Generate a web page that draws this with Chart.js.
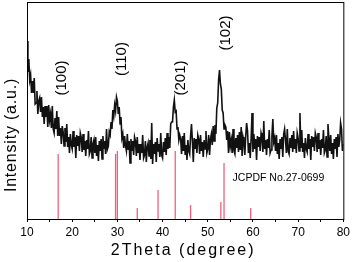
<!DOCTYPE html>
<html>
<head>
<meta charset="utf-8">
<script src="https://cdn.jsdelivr.net/npm/chart.js@4.4.1/dist/chart.umd.min.js"></script>
<style>
  html, body { margin: 0; padding: 0; background: #fff; }
  #wrap { width: 353px; height: 262px; position: relative; }
</style>
</head>
<body>
<div id="wrap"><canvas id="xrdChart"></canvas></div>
<script>
// XRD scan, 2theta from 10 to 80 deg, one reading every 0.2 deg (arbitrary units)
const startAngle = 10;
const stepAngle = 0.2;
const intensity = [
    178,147,160,139,144,126,138,126,141,115,
    116,128,105,118,121,107,122,102,112,95,
    113,102,113,92,114,99,105,91,113,90,
    86,101,90,108,83,102,83,91,75,93,
    87,73,91,77,95,72,82,66,85,74,
    70,88,72,82,61,84,73,83,68,86,
    82,67,85,69,78,63,79,70,88,65,
    68,82,61,75,79,66,82,63,74,58,
    78,68,80,60,83,70,78,65,90,70,
    73,87,84,97,90,109,103,114,108,122,
    118,105,112,95,102,81,85,71,83,73,
    68,85,69,78,56,80,68,78,64,82,
    78,63,82,66,75,59,75,66,84,61,
    64,78,57,72,76,63,79,60,96,55,
    75,65,77,57,81,68,75,62,86,64,
    61,77,67,81,64,86,70,82,71,95,
    97,97,112,119,107,108,90,92,79,84,
    80,65,83,68,86,64,74,59,79,68,
    65,83,95,78,57,81,70,80,66,84,
    80,65,84,68,77,62,79,70,88,66,
    70,84,64,80,85,74,93,78,94,85,
    111,116,139,149,135,130,109,106,90,94,
    92,79,88,66,87,73,79,66,90,68,
    65,81,71,84,67,87,69,92,63,82,
    77,64,83,96,88,66,76,61,81,106,
    67,85,70,80,59,83,72,82,68,86,
    82,67,98,70,79,64,80,71,89,66,
    69,83,100,77,81,68,84,65,76,60,
    80,70,82,62,85,90,79,66,90,68,
    65,81,71,84,67,88,70,80,66,86,
    81,68,106,71,89,67,76,61,81,70,
    67,85,70,80,59,83,72,82,68,86,
    82,67,86,70,79,64,80,71,89,66,
    69,83,62,95,81,68,84,65,76,60,
    80,70,82,62,85,72,79,96,90,68,
    75
];

// JCPDF 27-0699 reference lines
const refAngles = [16.9, 29.6, 30.0, 34.4, 39.0, 42.8, 46.2, 52.9, 53.6, 59.5];
const refHeights = [65, 65, 68, 11, 29, 68, 14, 17, 56, 11];

const peakNames = ['(100)', '(110)', '(201)', '(102)'];
const cardName = 'JCPDF No.27-0699';
const xTitle = '2Theta (degree)';
const yTitle = 'Intensity (a.u.)';

const fontFamily = "'Liberation Sans', Arial, sans-serif";

let tracePoints = [];
for (let i = 0; i < intensity.length; i++) {
    tracePoints.push({x: startAngle + i * stepAngle, y: intensity[i]});
}

let refPoints = [];
for (let i = 0; i < refAngles.length; i++) {
    refPoints.push({x: refAngles[i], y: 0});
    refPoints.push({x: refAngles[i], y: refHeights[i]});
    refPoints.push({x: refAngles[i], y: null});
}

// where the peak names sit, in data units
const peakSpots = [
    {x: 17.7, y: 141},
    {x: 30.9, y: 160},
    {x: 44.0, y: 141},
    {x: 53.9, y: 186}
];

const textPlugin = {
    id: 'xrdText',
    afterDraw(chart) {
        const ctx = chart.ctx;
        const a = chart.chartArea;
        const xs = chart.scales.x;
        const ys = chart.scales.y;
        ctx.save();
        ctx.strokeStyle = '#000';
        ctx.lineWidth = 1;
        ctx.strokeRect(a.left + 0.5, a.top + 0.5, a.right - a.left, a.bottom - a.top);

        ctx.fillStyle = '#000';
        ctx.textAlign = 'center';
        ctx.textBaseline = 'middle';
        ctx.font = '15px ' + fontFamily;
        for (let i = 0; i < peakNames.length; i++) {
            ctx.save();
            ctx.translate(xs.getPixelForValue(peakSpots[i].x), ys.getPixelForValue(peakSpots[i].y));
            ctx.rotate(-Math.PI / 2);
            ctx.fillText(peakNames[i], 0, 0);
            ctx.restore();
        }

        ctx.textAlign = 'left';
        ctx.font = '10.5px ' + fontFamily;
        ctx.fillText(cardName, xs.getPixelForValue(55.5), ys.getPixelForValue(41));

        ctx.textAlign = 'center';
        ctx.font = '16px ' + fontFamily;
        ctx.letterSpacing = '2px';
        ctx.fillText(xTitle, (a.left + a.right) / 2 - 2, a.bottom + 32);

        ctx.letterSpacing = '0.8px';
        ctx.translate(12, a.bottom - 84);
        ctx.rotate(-Math.PI / 2);
        ctx.fillText(yTitle, 0, 0);
        ctx.restore();
    }
};

new Chart('xrdChart', {
    type: 'line',
    data: {
        datasets: [
            {
                data: refPoints,
                borderColor: '#f0607a',
                borderWidth: 1.3,
                pointRadius: 0,
                spanGaps: false,
                tension: 0
            },
            {
                data: tracePoints,
                borderColor: '#111',
                borderWidth: 1.6,
                pointRadius: 0,
                tension: 0
            }
        ]
    },
    options: {
        responsive: true,
        maintainAspectRatio: false,
        animation: false,
        layout: {padding: {top: 2, right: 9, left: 0, bottom: 0}},
        plugins: {
            legend: {display: false},
            tooltip: {enabled: false}
        },
        scales: {
            x: {
                type: 'linear',
                min: 10,
                max: 80,
                afterFit(scale) { scale.height = 43; },
                border: {display: false},
                grid: {drawOnChartArea: false, tickLength: 3, color: '#000', lineWidth: 1},
                ticks: {
                    stepSize: 5,
                    autoSkip: false,
                    maxRotation: 0,
                    padding: 3,
                    color: '#000',
                    font: {family: fontFamily, size: 12},
                    callback: v => (v % 10 === 0 ? v : '')
                }
            },
            y: {
                min: 0,
                max: 217,
                afterFit(scale) { scale.width = 27; },
                border: {display: false},
                grid: {display: false},
                ticks: {display: false}
            }
        }
    },
    plugins: [textPlugin]
});
</script>
</body>
</html>
